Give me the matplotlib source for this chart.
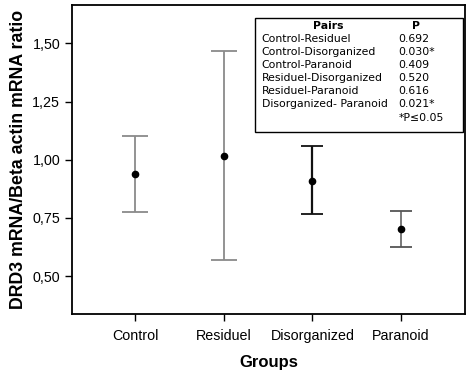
import matplotlib
matplotlib.use("Agg")
import matplotlib.pyplot as plt
from matplotlib.patches import Rectangle
from matplotlib.ticker import FuncFormatter

plt.rcParams['font.family'] = ['Liberation Sans', 'DejaVu Sans']

groups = ["Control", "Residuel", "Disorganized", "Paranoid"]
means = [0.940, 1.016, 0.910, 0.702]
upper = [1.101, 1.466, 1.057, 0.779]
lower = [0.777, 0.568, 0.765, 0.625]

pairs = ["Control-Residuel", "Control-Disorganized", "Control-Paranoid",
         "Residuel-Disorganized", "Residuel-Paranoid", "Disorganized- Paranoid"]
pvals = ["0.692", "0.030*", "0.409", "0.520", "0.616", "0.021*"]
yticks = [0.50, 0.75, 1.00, 1.25, 1.50]

bar_colors = ["#8a8a8a", "#8a8a8a", "#111111", "#555555"]
bar_widths = [1.3, 1.3, 1.6, 1.1]
caps = [9.5, 9.5, 8, 8]

fig = plt.figure(figsize=(4.74, 3.85), dpi=100)
ax = fig.add_axes([0.152, 0.184, 0.829, 0.804])

x = range(1, len(groups) + 1)
for i, xi in enumerate(x):
    err = [[means[i] - lower[i]], [upper[i] - means[i]]]
    ax.errorbar([xi], [means[i]], yerr=err, fmt='none', ecolor=bar_colors[i],
                elinewidth=bar_widths[i], capsize=caps[i], capthick=1.3)
ax.plot(list(x), means, 'o', color='black', markersize=4.5, zorder=5)

ax.set_xlim(0.29, 4.72)
ax.set_ylim(0.336, 1.667)
ax.set_xticks(list(x))
ax.set_xticklabels(groups)
ax.set_yticks(yticks)
ax.yaxis.set_major_formatter(FuncFormatter(lambda v, p: ("%.2f" % v).replace('.', ',')))
ax.tick_params(axis='both', direction='out', length=5, width=1, labelsize=10.3)
ax.tick_params(axis='x', pad=6)
for s in ax.spines.values():
    s.set_linewidth(1.3)

ax.set_xlabel("Groups", fontsize=12, fontweight='bold', labelpad=8)
ax.set_ylabel("DRD3 mRNA/Beta actin mRNA ratio", fontsize=12.8, fontweight='bold', labelpad=4)

# p-value table
ax.add_patch(Rectangle((0.466, 0.589), 0.528, 0.367, transform=ax.transAxes,
                       fill=False, edgecolor='black', linewidth=1.0))
fs = 7.8
tf = ['DejaVu Sans']
ax.text(0.651, (314 - 24) / 311, "Pairs", transform=ax.transAxes, ha='center',
        va='center', fontsize=fs, fontweight='bold', family=tf)
ax.text(0.875, (314 - 24) / 311, "P", transform=ax.transAxes, ha='center',
        va='center', fontsize=fs, fontweight='bold', family=tf)
for k in range(len(pairs)):
    yy = (314 - (37.3 + 13.2 * k)) / 311
    ax.text(0.483, yy, pairs[k], transform=ax.transAxes, ha='left', va='center',
            fontsize=fs, family=tf)
    ax.text(0.831, yy, pvals[k], transform=ax.transAxes, ha='left', va='center',
            fontsize=fs, family=tf)
ax.text(0.831, (314 - 116.5) / 311, "*P\u22640.05", transform=ax.transAxes,
        ha='left', va='center', fontsize=fs, family=tf)

fig.savefig("out.png", dpi=100)
